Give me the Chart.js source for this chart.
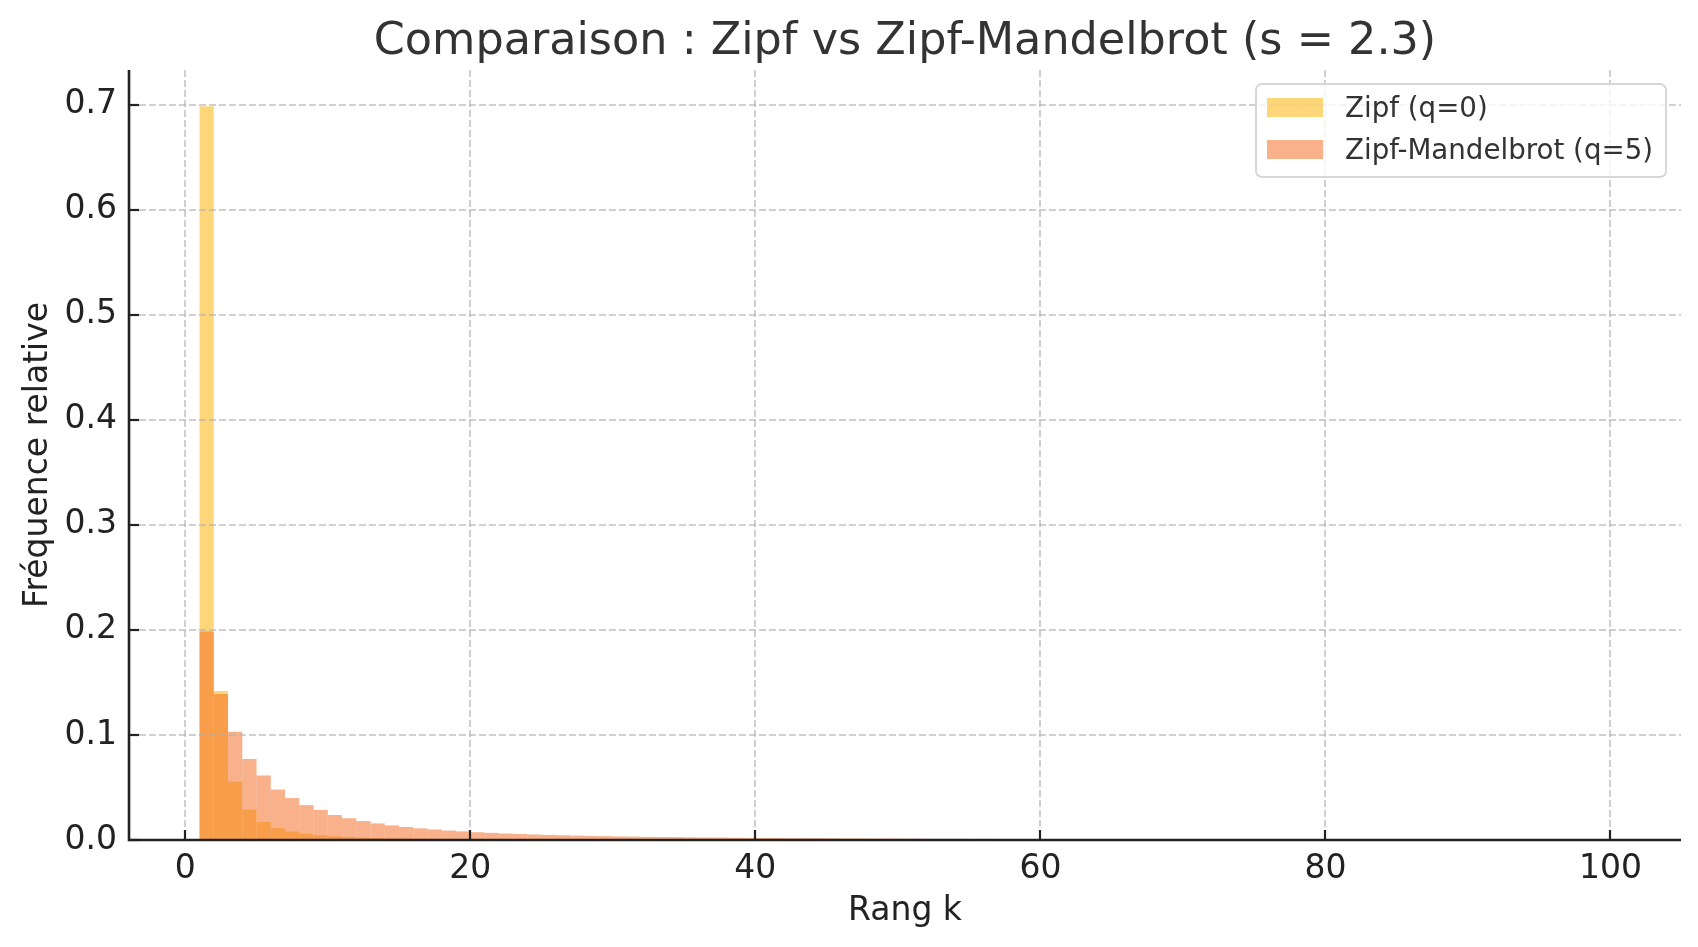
<!DOCTYPE html>
<html lang="fr">
<head>
<meta charset="utf-8">
<title>Comparaison : Zipf vs Zipf-Mandelbrot</title>
<script src="https://cdn.jsdelivr.net/npm/chart.js@4.4.1/dist/chart.umd.min.js"></script>
<style>
  html, body { margin: 0; padding: 0; background: #fff; }
  #wrap { width: 1698px; height: 947px; }
</style>
</head>
<body>
<div id="wrap"><canvas id="zipf-chart"></canvas></div>
<script>
const ranks = Array.from({ length: 100 }, (_, i) => i + 1);

// Zipf (q=0)
const zipfValues = [
  0.6985, 0.1418, 0.0555, 0.0290, 0.0172, 0.0113, 0.0080, 0.0059, 0.0045, 0.0035,
  0.0028, 0.0023, 0.0019, 0.0016, 0.0014, 0.0012, 0.0010, 0.0009, 0.0008, 0.0007,
  0.0006, 0.0006, 0.0005, 0.0005, 0.0004, 0.0004, 0.0004, 0.0003, 0.0003, 0.0003,
  0.0003, 0.0003, 0.0002, 0.0002, 0.0002, 0.0002, 0.0002, 0.0002, 0.0002, 0.0002,
  0.0001, 0.0001, 0.0001, 0.0001, 0.0001, 0.0001, 0.0001, 0.0001, 0.0001, 0.0001,
  0.0001, 0.0001, 0.0001, 0.0001, 0.0001, 0.0001, 0.0001, 0.0001, 0.0001, 0.0001,
  0.0001, 0.0001, 0.0001, 0, 0, 0, 0, 0, 0, 0,
  0, 0, 0, 0, 0, 0, 0, 0, 0, 0,
  0, 0, 0, 0, 0, 0, 0, 0, 0, 0,
  0, 0, 0, 0, 0, 0, 0, 0, 0, 0
];

// Zipf-Mandelbrot (q=5)
const mandelbrotValues = [
  0.1985, 0.1390, 0.1030, 0.0772, 0.0614, 0.0480, 0.0399, 0.0332, 0.0286, 0.0238,
  0.0207, 0.0180, 0.0158, 0.0139, 0.0124, 0.0111, 0.0100, 0.0090, 0.0082, 0.0074,
  0.0068, 0.0062, 0.0057, 0.0053, 0.0049, 0.0045, 0.0042, 0.0039, 0.0037, 0.0034,
  0.0032, 0.0030, 0.0028, 0.0027, 0.0025, 0.0024, 0.0023, 0.0021, 0.0020, 0.0019,
  0.0018, 0.0017, 0.0017, 0.0016, 0.0015, 0.0014, 0.0014, 0.0013, 0.0013, 0.0012,
  0.0012, 0.0011, 0.0011, 0.0011, 0.0010, 0.0010, 0.0009, 0.0009, 0.0009, 0.0008,
  0.0008, 0.0008, 0.0007, 0.0007, 0.0007, 0.0007, 0.0006, 0.0006, 0.0006, 0.0006,
  0.0006, 0.0005, 0.0005, 0.0005, 0.0005, 0.0005, 0.0005, 0.0004, 0.0004, 0.0004,
  0.0004, 0.0004, 0.0004, 0.0004, 0.0004, 0.0004, 0.0004, 0.0003, 0.0003, 0.0003,
  0.0003, 0.0003, 0.0003, 0.0003, 0.0003, 0.0003, 0.0003, 0.0003, 0.0003, 0.0003
];

const seriesLabels = ["Zipf (q=0)", "Zipf-Mandelbrot (q=5)"];
const xTickValues = [0, 20, 40, 60, 80, 100];
const yTickValues = [0, 0.1, 0.2, 0.3, 0.4, 0.5, 0.6, 0.7];

const FONT = "'DejaVu Sans', 'Liberation Sans', sans-serif";
const zipfColor = "rgba(253,176,0,0.52)";
const mandelbrotColor = "rgba(242,105,30,0.52)";
const gridColor = "rgba(176,176,176,0.6)";
const axisColor = "#222222";

// bars span [k, k+1] (edge alignment)
const toPoints = values => ranks.map((k, i) => ({ x: k + 0.5, y: values[i] }));

// grid lines over the bars, then spines and inward ticks
const axesPlugin = {
  id: "mplAxes",
  afterDatasetsDraw(chart) {
    const { ctx, chartArea: area, scales: { x, y } } = chart;
    ctx.save();
    ctx.strokeStyle = gridColor;
    ctx.lineWidth = 2;
    ctx.setLineDash([7, 3]);
    xTickValues.forEach(v => {
      const px = Math.round(x.getPixelForValue(v));
      ctx.beginPath();
      ctx.moveTo(px, area.top);
      ctx.lineTo(px, area.bottom);
      ctx.stroke();
    });
    yTickValues.forEach(v => {
      const py = Math.round(y.getPixelForValue(v));
      ctx.beginPath();
      ctx.moveTo(area.left, py);
      ctx.lineTo(area.right, py);
      ctx.stroke();
    });
    ctx.setLineDash([]);
    ctx.strokeStyle = axisColor;
    ctx.lineWidth = 2.2;
    xTickValues.forEach(v => {
      const px = Math.round(x.getPixelForValue(v));
      ctx.beginPath();
      ctx.moveTo(px, area.bottom);
      ctx.lineTo(px, area.bottom - 10);
      ctx.stroke();
    });
    yTickValues.forEach(v => {
      const py = Math.round(y.getPixelForValue(v));
      ctx.beginPath();
      ctx.moveTo(area.left, py);
      ctx.lineTo(area.left + 10, py);
      ctx.stroke();
    });
    ctx.lineWidth = 2.6;
    ctx.beginPath();
    ctx.moveTo(area.left, area.top);
    ctx.lineTo(area.left, area.bottom);
    ctx.lineTo(area.right, area.bottom);
    ctx.stroke();
    ctx.restore();
  }
};

// legend box in the upper right corner, matplotlib style
const legendPlugin = {
  id: "boxLegend",
  afterDraw(chart) {
    const { ctx, chartArea: area } = chart;
    const colors = [zipfColor, mandelbrotColor];
    const boxW = 410, boxH = 93;
    const left = area.right - 15 - boxW;
    const top = area.top + 14;
    ctx.save();
    ctx.beginPath();
    ctx.roundRect(left, top, boxW, boxH, 6);
    ctx.fillStyle = "rgba(255,255,255,0.8)";
    ctx.fill();
    ctx.strokeStyle = "#d6d6d6";
    ctx.lineWidth = 2;
    ctx.stroke();
    ctx.font = `27.7px ${FONT}`;
    ctx.textBaseline = "middle";
    seriesLabels.forEach((label, i) => {
      const rowY = top + 14 + i * 42;
      ctx.fillStyle = colors[i];
      ctx.fillRect(left + 11, rowY, 56, 19);
      ctx.fillStyle = "#333333";
      ctx.fillText(label, left + 89, rowY + 12);
    });
    ctx.restore();
  }
};

new Chart(document.getElementById("zipf-chart"), {
  type: "bar",
  data: {
    datasets: [
      {
        label: seriesLabels[0],
        data: toPoints(zipfValues),
        backgroundColor: zipfColor,
        borderWidth: 0,
        inflateAmount: 0,
        order: 1
      },
      {
        label: seriesLabels[1],
        data: toPoints(mandelbrotValues),
        backgroundColor: mandelbrotColor,
        borderWidth: 0,
        inflateAmount: 0,
        order: 0
      }
    ]
  },
  options: {
    responsive: true,
    maintainAspectRatio: false,
    devicePixelRatio: 1,
    animation: false,
    layout: { padding: { left: 0, right: 17, top: 0, bottom: 0 } },
    datasets: {
      bar: { grouped: false, barPercentage: 1, categoryPercentage: 1 }
    },
    plugins: {
      legend: { display: false },
      tooltip: { enabled: false },
      title: {
        display: true,
        fullSize: false,
        text: "Comparaison : Zipf vs Zipf-Mandelbrot (s = 2.3)",
        color: "#333333",
        font: { family: FONT, size: 44.5, weight: "normal" },
        padding: { top: 16, bottom: 0.6 }
      }
    },
    scales: {
      x: {
        type: "linear",
        min: -3.95,
        max: 104.95,
        offset: false,
        grid: { display: false, offset: false, drawTicks: false },
        border: { display: false },
        afterBuildTicks: scale => { scale.ticks = xTickValues.map(value => ({ value })); },
        afterFit: scale => { scale.height = 107; },
        ticks: {
          color: axisColor,
          padding: 10,
          maxRotation: 0,
          font: { family: FONT, size: 33 }
        },
        title: {
          display: true,
          text: "Rang k",
          color: axisColor,
          font: { family: FONT, size: 33 },
          padding: { top: 0, bottom: 16 }
        }
      },
      y: {
        min: 0,
        max: 0.733,
        grid: { display: false, drawTicks: false },
        border: { display: false },
        afterBuildTicks: scale => { scale.ticks = yTickValues.map(value => ({ value })); },
        afterFit: scale => { scale.width = 129; },
        ticks: {
          color: axisColor,
          padding: 12,
          font: { family: FONT, size: 33 },
          callback: value => value.toFixed(1)
        },
        title: {
          display: true,
          text: "Fréquence relative",
          color: axisColor,
          font: { family: FONT, size: 33 },
          padding: { top: 18.5, bottom: 0 }
        }
      }
    }
  },
  plugins: [axesPlugin, legendPlugin]
});
</script>
</body>
</html>
